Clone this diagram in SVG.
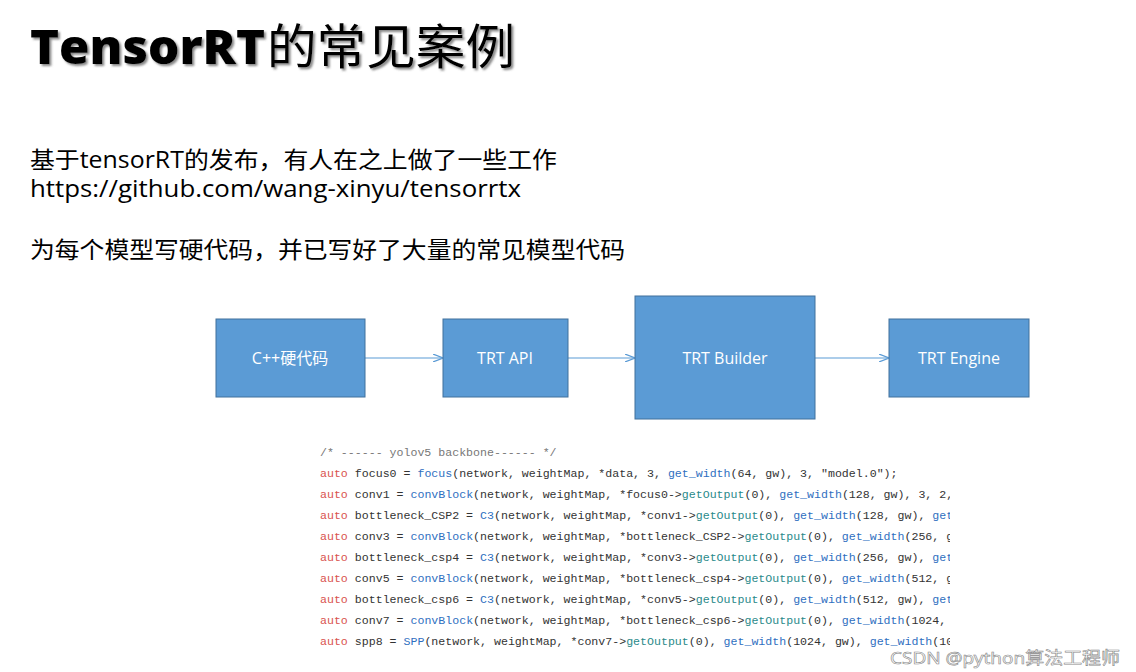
<svg xmlns="http://www.w3.org/2000/svg" width="1136" height="672" viewBox="0 0 1136 672">
<defs>
<marker id="ah" markerWidth="10" markerHeight="8" refX="9" refY="4" orient="auto" markerUnits="userSpaceOnUse"><path d="M0,0 L10,4 L0,8" fill="none" stroke="#5b9bd5" stroke-width="1.2"/></marker>
<clipPath id="cc"><rect x="300" y="435" width="650" height="215"/></clipPath>
<filter id="sh"><feDropShadow dx="2" dy="2" stdDeviation="1.2" flood-color="#555" flood-opacity="0.7"/></filter>
</defs>
<style>
.box{fill:#5b9bd5;stroke:#41719c;stroke-width:1}
.bt{font-family:"Open Sans","Noto Sans CJK SC",sans-serif;font-size:16px;fill:#fff;text-anchor:middle}
.t{font-family:"Open Sans","Noto Sans CJK SC",sans-serif;font-size:23px;fill:#000}
.c{font-family:"Liberation Mono",monospace;font-size:11.6px;fill:#333}
.k{fill:#d9534f}.f{fill:#2f6fbf}.g{fill:#2a8a8a}.cm{fill:#777}
</style>
<rect width="1136" height="672" fill="#fff"/>
<g filter="url(#sh)" font-family="'Open Sans','Noto Sans CJK SC',sans-serif">
<text x="30" y="64" font-size="48" font-weight="900" textLength="235" lengthAdjust="spacingAndGlyphs">TensorRT</text>
<text x="267" y="64" font-size="48" textLength="248" lengthAdjust="spacingAndGlyphs">的常见案例</text>
</g>
<text class="t" x="30" y="168" textLength="527" lengthAdjust="spacingAndGlyphs">基于tensorRT的发布，有人在之上做了一些工作</text>
<text class="t" x="30" y="197" textLength="491" lengthAdjust="spacingAndGlyphs">https://github.com/wang-xinyu/tensorrtx</text>
<text class="t" x="30" y="258" textLength="595" lengthAdjust="spacingAndGlyphs">为每个模型写硬代码，并已写好了大量的常见模型代码</text>
<g id="connectors" stroke="#5b9bd5" stroke-width="1.2" fill="none">
<line x1="365" y1="358" x2="442" y2="358" marker-end="url(#ah)"/>
<line x1="568" y1="358" x2="634" y2="358" marker-end="url(#ah)"/>
<line x1="815" y1="358" x2="888" y2="358" marker-end="url(#ah)"/>
</g>
<g id="n1"><rect class="box" x="216" y="319" width="149" height="78"/><text class="bt" x="290" y="364">C++硬代码</text></g>
<g id="n2"><rect class="box" x="443" y="319" width="125" height="78"/><text class="bt" x="505" y="364">TRT API</text></g>
<g id="n3"><rect class="box" x="635" y="296" width="180" height="123"/><text class="bt" x="725" y="364">TRT Builder</text></g>
<g id="n4"><rect class="box" x="889" y="319" width="140" height="78"/><text class="bt" x="959" y="364">TRT Engine</text></g>
<g clip-path="url(#cc)">
<text class="c cm" x="320" y="456">/* ------ yolov5 backbone------ */</text>
<text class="c" x="320" y="477"><tspan class="k">auto</tspan> focus0 = <tspan class="f">focus</tspan>(network, weightMap, *data, 3, <tspan class="f">get_width</tspan>(64, gw), 3, "model.0");</text>
<text class="c" x="320" y="498"><tspan class="k">auto</tspan> conv1 = <tspan class="f">convBlock</tspan>(network, weightMap, *focus0-&gt;<tspan class="g">getOutput</tspan>(0), <tspan class="f">get_width</tspan>(128, gw), 3, 2,</text>
<text class="c" x="320" y="519"><tspan class="k">auto</tspan> bottleneck_CSP2 = <tspan class="f">C3</tspan>(network, weightMap, *conv1-&gt;<tspan class="g">getOutput</tspan>(0), <tspan class="f">get_width</tspan>(128, gw), <tspan class="f">get_width</tspan></text>
<text class="c" x="320" y="540"><tspan class="k">auto</tspan> conv3 = <tspan class="f">convBlock</tspan>(network, weightMap, *bottleneck_CSP2-&gt;<tspan class="g">getOutput</tspan>(0), <tspan class="f">get_width</tspan>(256, gw</text>
<text class="c" x="320" y="561"><tspan class="k">auto</tspan> bottleneck_csp4 = <tspan class="f">C3</tspan>(network, weightMap, *conv3-&gt;<tspan class="g">getOutput</tspan>(0), <tspan class="f">get_width</tspan>(256, gw), <tspan class="f">get_width</tspan></text>
<text class="c" x="320" y="582"><tspan class="k">auto</tspan> conv5 = <tspan class="f">convBlock</tspan>(network, weightMap, *bottleneck_csp4-&gt;<tspan class="g">getOutput</tspan>(0), <tspan class="f">get_width</tspan>(512, gw</text>
<text class="c" x="320" y="603"><tspan class="k">auto</tspan> bottleneck_csp6 = <tspan class="f">C3</tspan>(network, weightMap, *conv5-&gt;<tspan class="g">getOutput</tspan>(0), <tspan class="f">get_width</tspan>(512, gw), <tspan class="f">get_width</tspan></text>
<text class="c" x="320" y="624"><tspan class="k">auto</tspan> conv7 = <tspan class="f">convBlock</tspan>(network, weightMap, *bottleneck_csp6-&gt;<tspan class="g">getOutput</tspan>(0), <tspan class="f">get_width</tspan>(1024,</text>
<text class="c" x="320" y="645"><tspan class="k">auto</tspan> spp8 = <tspan class="f">SPP</tspan>(network, weightMap, *conv7-&gt;<tspan class="g">getOutput</tspan>(0), <tspan class="f">get_width</tspan>(1024, gw), <tspan class="f">get_width</tspan>(1024</text>
</g>
<text x="890" y="664" textLength="230" lengthAdjust="spacingAndGlyphs" font-family="'Noto Sans','Noto Sans CJK SC',sans-serif" font-size="17" fill="#fff" stroke="#888" stroke-width="0.6">CSDN @python算法工程师</text>
</svg>
